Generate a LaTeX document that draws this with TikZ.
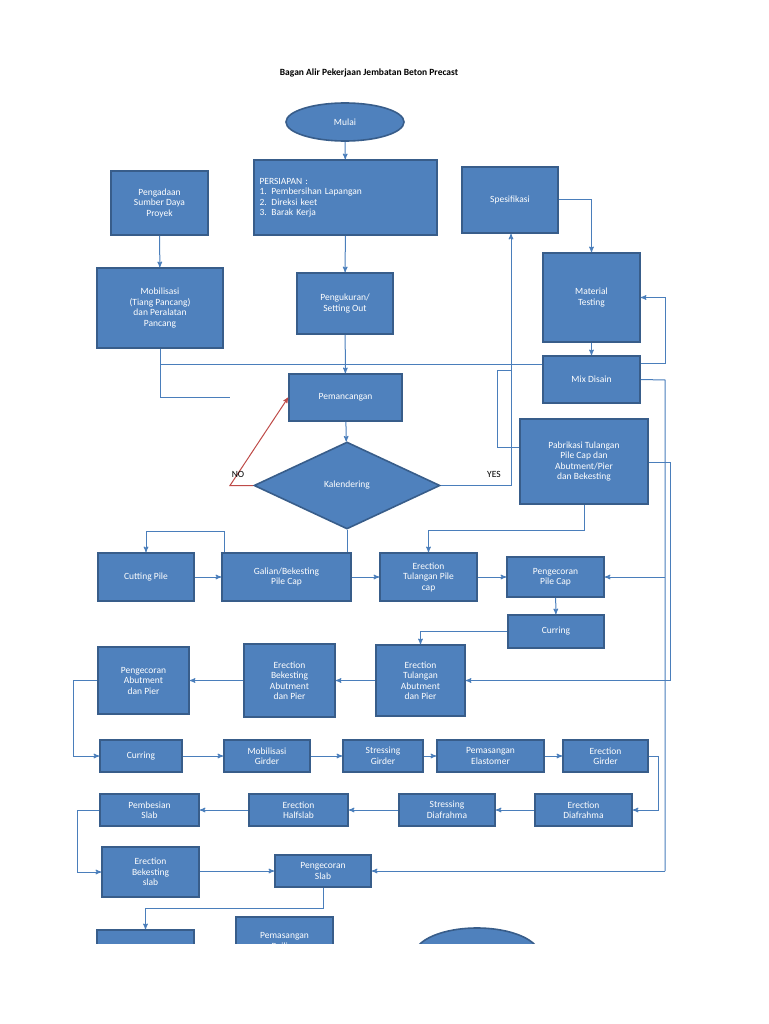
\documentclass[tikz,border=0pt]{standalone}
\usepackage{fontspec}
\setmainfont{Carlito}
\usetikzlibrary{shapes.geometric,arrows}
\definecolor{bfill}{HTML}{4F81BD}
\definecolor{bbord}{HTML}{385D8A}
\definecolor{lblue}{HTML}{4A7EBB}
\definecolor{lred}{HTML}{BE4B48}
\tikzset{
  box/.style={draw=bbord, fill=bfill, line width=1.6pt, text=white, align=center, inner sep=1pt,
    font=\fontsize{9.5}{10.5}\selectfont},
  wl/.style={draw=lblue, line width=1pt},
  ar/.style={wl, -stealth'},
  lbl/.style={font=\fontsize{9.5}{11}\selectfont}
}
\begin{document}
\begin{tikzpicture}[x=1pt,y=-1pt]
\useasboundingbox (0,0) rectangle (768,1024);
\node[lbl, font=\bfseries\fontsize{9.5}{11}\selectfont] (title) at (369,73) {Bagan Alir Pekerjaan Jembatan Beton Precast};

\node[box, ellipse, minimum width=118, minimum height=38] (mulai) at (345,122) {Mulai};
\node[box, minimum width=183, minimum height=75, text width=172, align=left] (persiapan) at (345.5,197.5)
  {PERSIAPAN :\\1. Pembersihan Lapangan\\2. Direksi keet\\3. Barak Kerja\\[9pt]};
\node[box, minimum width=97, minimum height=64] (pengadaan) at (159.5,203) {Pengadaan\\Sumber Daya\\Proyek};
\node[box, minimum width=96, minimum height=66] (spek) at (510,200) {Spesifikasi};
\node[box, minimum width=126, minimum height=80] (mobil) at (160,308) {Mobilisasi\\(Tiang Pancang)\\dan Peralatan\\Pancang};
\node[box, minimum width=96, minimum height=61] (ukur) at (345,303.5) {Pengukuran/\\Setting Out};
\node[box, minimum width=97, minimum height=89] (mattest) at (591.5,297.5) {Material\\Testing};
\node[box, minimum width=97, minimum height=47] (mix) at (591.5,379.5) {Mix Disain};
\node[box, minimum width=113, minimum height=47] (pancang) at (345.5,397.5) {Pemancangan};
\node[box, diamond, aspect=2.14, minimum width=186, minimum height=87, inner sep=0] (kalender) at (347,485.5) {Kalendering};
\node[box, minimum width=128, minimum height=85] (pabrik) at (584,461.5) {Pabrikasi Tulangan\\Pile Cap dan\\Abutment/Pier\\dan Bekesting};

\node[box, minimum width=96, minimum height=48] (cutting) at (146,577) {Cutting Pile};
\node[box, minimum width=129, minimum height=48] (galian) at (286.5,577) {Galian/Bekesting\\Pile Cap};
\node[box, minimum width=97, minimum height=48] (etpc) at (428.5,577) {Erection\\Tulangan Pile\\cap};
\node[box, minimum width=97, minimum height=40] (pgpc) at (555.5,577) {Pengecoran\\Pile Cap};
\node[box, minimum width=96, minimum height=33] (curr1) at (556,631.5) {Curring};

\node[box, minimum width=91, minimum height=67] (pga) at (143.5,680.5) {Pengecoran\\Abutment\\dan Pier};
\node[box, minimum width=91, minimum height=73] (eba) at (289.5,680.5) {Erection\\Bekesting\\Abutment\\dan Pier};
\node[box, minimum width=89, minimum height=71] (eta) at (420.5,680.5) {Erection\\Tulangan\\Abutment\\dan Pier};

\node[box, minimum width=82, minimum height=32] (curr2) at (141,756) {Curring};
\node[box, minimum width=86, minimum height=32] (mobg) at (267,756) {Mobilisasi\\Girder};
\node[box, minimum width=80, minimum height=32] (strg) at (383,756) {Stressing\\Girder};
\node[box, minimum width=107, minimum height=32] (elast) at (490.5,756) {Pemasangan\\Elastomer};
\node[box, minimum width=85, minimum height=32] (ereg) at (605.5,756) {Erection\\Girder};

\node[box, minimum width=99, minimum height=32] (pemb) at (149.5,810) {Pembesian\\Slab};
\node[box, minimum width=99, minimum height=32] (ereh) at (298.5,810) {Erection\\Halfslab};
\node[box, minimum width=96, minimum height=32] (strd) at (447,810) {Stressing\\Diafrahma};
\node[box, minimum width=97, minimum height=32] (ered) at (583.5,810) {Erection\\Diafrahma};

\node[box, minimum width=97, minimum height=50] (ebs) at (150.5,872) {Erection\\Bekesting\\slab};
\node[box, minimum width=96, minimum height=32] (pgs) at (323,871) {Pengecoran\\Slab};

% connectors
\draw[ar] (mulai) -- (persiapan);
\draw[ar] (persiapan) -- (ukur);
\draw[ar] (pengadaan) -- (mobil);
\draw[ar] (ukur) -- (pancang);
\draw[wl] (mix.west |- 0,364) -- (mobil.south |- 0,364);
\draw[wl] (mobil.south) -- (160,397) -- (230,397);
\draw[ar, draw=lred] (kalender.west) -- (230,485.5) -- (pancang.west);
\node[lbl] (no) at (238,474) {NO};
\draw[ar] (kalender.east) -- (511,485.5) -- (spek.south -| 511,0);
\node[lbl] (yes) at (494,474) {YES};
\draw[wl] (pabrik.west |- 0,447) -- (497,447) -- (497,370) -- (511,370);
\draw[ar] (spek.east) -| (mattest.north);
\draw[ar] (mattest.south) -- (mix.north);
\draw[ar] (mix.east |- 0,363) -- (665,363) |- (mattest.east);
\draw[ar] (pancang) -- (kalender);
\draw[wl] (mix.east) -- (665,380) -- (665,871);
\draw[ar] (665,577) -- (pgpc.east);
\draw[ar] (665,871) -- (pgs.east);
\draw[ar] (pabrik.east |- 0,462) -- (670,462) |- (eta.east);
\draw[ar] (pabrik.south) -- (584,530) -| (etpc.north);
\draw[wl] (kalender.south) -- (galian.north -| kalender.south);
\draw[ar] (galian.north -| 224,0) -- (224,531) -| (cutting.north);
\draw[ar] (cutting) -- (galian);
\draw[ar] (galian) -- (etpc);
\draw[ar] (etpc) -- (pgpc);
\draw[ar] (pgpc) -- (curr1);
\draw[ar] (curr1.west) -| (eta.north);
\draw[ar] (eta) -- (eba);
\draw[ar] (eba) -- (pga);
\draw[ar] (pga.west) -- (73,680.5) |- (curr2.west);
\draw[ar] (curr2) -- (mobg);
\draw[ar] (mobg) -- (strg);
\draw[ar] (strg) -- (elast);
\draw[ar] (elast) -- (ereg);
\draw[ar] (ereg.east) -- (658,756) |- (ered.east);
\draw[ar] (ered) -- (strd);
\draw[ar] (strd) -- (ereh);
\draw[ar] (ereh) -- (pemb);
\draw[ar] (pemb.west) -- (77,810) |- (ebs.west);
\draw[ar] (ebs.east |- pgs) -- (pgs.west);

% bottom row, cut off by the page
\begin{scope}
\clip (0,0) rectangle (768,943);
\node[box, minimum width=97, minimum height=50] (b1) at (145.5,955) {};
\node[box, minimum width=97, minimum height=50] (b2) at (284.5,942) {Pemasangan\\Railing};
\node[box, ellipse, minimum width=125, minimum height=54] (selesai) at (477,955) {Selesai};
\draw[ar] (pgs.south) -- (323,908) -| (b1.north);
\end{scope}
\end{tikzpicture}
\end{document}
